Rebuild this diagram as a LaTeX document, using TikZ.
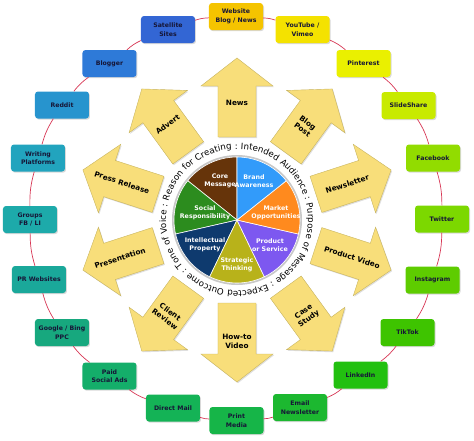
\documentclass[tikz,border=0pt]{standalone}
\usepackage{fontspec}
\setmainfont{DejaVu Sans}
\usepackage{tikz}
\usetikzlibrary{shapes.geometric}
\usetikzlibrary{arrows,shapes,shadows}
\usetikzlibrary{calc,decorations.text}
\usetikzlibrary{positioning}
\usepackage[dvipsnames]{xcolor}

\definecolor{arrowfill}{RGB}{248,222,122}
\definecolor{arrowline}{RGB}{200,180,95}
\definecolor{ringline}{RGB}{215,55,85}
\definecolor{sitetext}{RGB}{22,22,55}
\definecolor{pieedge}{RGB}{200,200,200}
\definecolor{coremsg}{RGB}{102,52,10}
\definecolor{socresp}{RGB}{44,140,30}
\definecolor{intprop}{RGB}{14,58,110}
\definecolor{strthink}{RGB}{184,178,26}
\definecolor{prodserv}{RGB}{125,88,240}
\definecolor{markopp}{RGB}{255,138,30}
\definecolor{brandaw}{RGB}{50,155,250}
\definecolor{cweb}{RGB}{245,196,0}
\definecolor{cyt}{RGB}{244,226,0}
\definecolor{cpin}{RGB}{234,240,0}
\definecolor{cslide}{RGB}{200,234,0}
\definecolor{cfb}{RGB}{146,220,0}
\definecolor{ctw}{RGB}{124,216,0}
\definecolor{cinsta}{RGB}{94,204,0}
\definecolor{ctik}{RGB}{62,196,0}
\definecolor{clink}{RGB}{34,192,16}
\definecolor{cmail}{RGB}{28,184,48}
\definecolor{cprint}{RGB}{22,181,72}
\definecolor{cdirect}{RGB}{20,179,86}
\definecolor{cpaid}{RGB}{20,174,106}
\definecolor{cppc}{RGB}{23,168,126}
\definecolor{cprweb}{RGB}{26,168,154}
\definecolor{cgroups}{RGB}{29,170,170}
\definecolor{cwrite}{RGB}{34,164,190}
\definecolor{creddit}{RGB}{39,148,206}
\definecolor{cblogger}{RGB}{46,122,216}
\definecolor{csat}{RGB}{51,102,212}

\begin{document}
\begin{tikzpicture}[x=1pt,y=1pt,
        site/.style={rectangle, rounded corners=3pt, minimum width=54pt, minimum height=27pt,
            inner sep=1pt, align=center, text=sitetext, font=\fontsize{6.2}{8.5}\selectfont\bfseries,
            drop shadow={shadow xshift=1pt, shadow yshift=-1.2pt, opacity=0.3}},
        link/.style={ringline, line width=0.7pt},
        bigarrow/.style={fill=arrowfill, draw=arrowline, line width=0.4pt,
            drop shadow={shadow xshift=1pt, shadow yshift=-1.2pt, opacity=0.25}},
        arrowlabel/.style={font=\fontsize{7.3}{9}\selectfont\bfseries, align=center},
        slicelabel/.style={text=white, font=\fontsize{6.3}{7.7}\selectfont\bfseries, align=center}]

        \useasboundingbox (-237,-220) rectangle (237,220);

        \foreach \ang/\rot/\r/\n/\txt in {90/0/117/news/News, 54/-36/116/blog/{Blog\\Post},
                18/18/116/nltr/Newsletter, -18/-18/121/pvid/Product Video,
                -54/36/118/case/{Case\\Study}, -90/0/121/howto/{How-to\\Video},
                -126/-36/118/client/{Client\\Review}, -162/18/123/pres/Presentation,
                162/-18/121/press/Press Release, 126/36/118/advert/Advert}{
            \draw[bigarrow, rotate=\ang] (83,-19) -- (134,-19) -- (134,-36) -- (162,0)
                -- (134,36) -- (134,19) -- (83,19) -- cycle;
            \node[arrowlabel, rotate=\rot] (\n) at (\ang:\r) {\txt};
        }

        \fill[pieedge] (0,0) circle (65);
        \foreach \s/\e/\col in {90/141.43/coremsg, 141.43/192.86/socresp, 192.86/244.29/intprop,
                244.29/295.71/strthink, 295.71/347.14/prodserv, 347.14/398.57/markopp,
                38.57/90/brandaw}{
            \filldraw[fill=\col, draw=white, line width=0.6pt] (0,0) -- (\s:63)
                arc[start angle=\s, end angle=\e, radius=63] -- cycle;
        }

        \node[slicelabel] (core) at (-17,39) {Core\\Message};
        \node[slicelabel] (brand) at (17,39) {Brand\\Awareness};
        \node[slicelabel] (social) at (-32,7) {Social\\Responsibility};
        \node[slicelabel] (market) at (39,7) {Market\\Opportunities};
        \node[slicelabel] (intel) at (-32,-25) {Intellectual\\Property};
        \node[slicelabel] (product) at (33,-25) {Product\\or Service};
        \node[slicelabel] (strat) at (0,-45) {Strategic\\Thinking};

        \path[decorate, decoration={text along path, text align=fit to path stretching spaces,
                text={|\fontsize{8.7}{10}\selectfont|Intended Audience : Purpose of Message : Expected Outcome : Tone of Voice : Reason for Creating :}}]
            (87:71) arc[start angle=87, end angle=-270.7, radius=71];

        \foreach \n/\pos/\col/\txt in {web/{-1,203.5}/cweb/{Website\\Blog / News},
                yt/{65.5,190.5}/cyt/{YouTube /\\Vimeo}, pin/{126.5,156.5}/cpin/Pinterest,
                slide/{171.5,114.5}/cslide/SlideShare, fb/{196,62}/cfb/Facebook,
                tw/{205,1}/ctw/Twitter, insta/{195.5,-60}/cinsta/Instagram,
                tik/{170.5,-112.5}/ctik/TikTok, lin/{123.5,-155}/clink/LinkedIn,
                email/{63,-187.5}/cmail/{Email\\Newsletter}, print/{-0.5,-200.5}/cprint/{Print\\Media},
                direct/{-64,-188}/cdirect/Direct Mail, paid/{-127.5,-156}/cpaid/{Paid\\Social Ads},
                ppc/{-175,-112.5}/cppc/{Google / Bing\\PPC}, prweb/{-198,-59.5}/cprweb/PR Websites,
                groups/{-207,0.5}/cgroups/{Groups\\FB / LI}, write/{-199,62}/cwrite/{Writing\\Platforms},
                reddit/{-175,115}/creddit/Reddit, blogger/{-127.5,156.5}/cblogger/Blogger,
                sat/{-69,190.5}/csat/{Satellite\\Sites}}{
            \node[site, fill=\col] (\n) at (\pos) {\txt};
        }

        \foreach \a/\b in {web/yt, yt/pin, pin/slide, slide/fb, fb/tw, tw/insta, insta/tik,
                tik/lin, lin/email, email/print, print/direct, direct/paid, paid/ppc, ppc/prweb,
                prweb/groups, groups/write, write/reddit, reddit/blogger, blogger/sat, sat/web}{
            \draw[link] (\a) to[bend left=8] (\b);
        }
\end{tikzpicture}
\end{document}
